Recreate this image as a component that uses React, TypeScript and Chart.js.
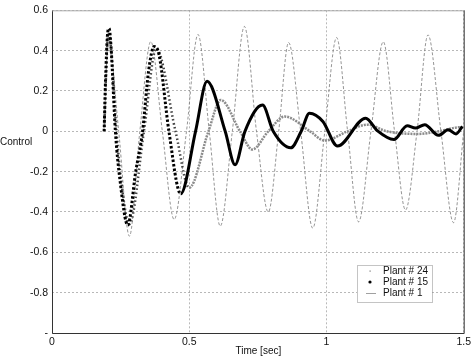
import React, { useEffect, useRef } from "react";
import { Chart, registerables } from "chart.js";

Chart.register(...registerables);

// Plant # 1 (thin line)
const T1 = [0.19, 0.205, 0.243, 0.282, 0.32, 0.36, 0.402, 0.445, 0.49, 0.532, 0.573, 0.613, 0.657, 0.701, 0.745, 0.788, 0.826, 0.862, 0.906, 0.95, 0.994, 1.037, 1.077, 1.117, 1.162, 1.207, 1.248, 1.288, 1.33, 1.37, 1.417, 1.463, 1.5];
const P1 = [0, 0.46, 0, -0.52, 0, 0.445, 0, -0.437, 0, 0.48, 0, -0.47, 0, 0.52, 0, -0.4, 0, 0.44, 0, -0.48, 0, 0.465, 0, -0.449, 0, 0.444, 0, -0.39, 0, 0.478, 0, -0.453, 0];

// Plant # 15 (bold dots)
const T15 = [0.19, 0.195, 0.203, 0.208, 0.215, 0.231, 0.248, 0.276, 0.305, 0.33, 0.352, 0.372, 0.39, 0.426, 0.469, 0.523, 0.565, 0.631, 0.667, 0.703, 0.767, 0.806, 0.87, 0.908, 0.938, 0.987, 1.04, 1.143, 1.185, 1.246, 1.294, 1.324, 1.358, 1.408, 1.444, 1.472, 1.495];
const P15 = [0, 0.25, 0.49, 0.51, 0.42, 0, -0.245, -0.465, -0.2, 0, 0.3, 0.42, 0.38, 0, -0.31, 0, 0.248, 0, -0.166, 0, 0.13, 0, -0.082, 0, 0.09, 0.049, -0.073, 0.065, 0.003, -0.041, 0.028, 0.016, 0.033, -0.02, 0.008, -0.013, 0.024];

// Plant # 24 (small markers)
const T24 = [0.19, 0.196, 0.205, 0.213, 0.235, 0.252, 0.282, 0.335, 0.38, 0.45, 0.5, 0.57, 0.615, 0.685, 0.73, 0.788, 0.848, 0.94, 0.993, 1.077, 1.149, 1.22, 1.33, 1.41, 1.486, 1.5];
const P24 = [0, 0.25, 0.48, 0.44, 0, -0.245, -0.46, 0, 0.41, 0, -0.28, 0, 0.155, 0, -0.09, 0, 0.073, 0, -0.046, 0, 0.033, 0, -0.013, 0, 0.02, 0.018];

const Y_TICKS = [0.6, 0.4, 0.2, 0, -0.2, -0.4, -0.6, -0.8, -1];
const X_TICKS = [0, 0.5, 1, 1.5];
const LEGEND = ["Plant # 24", "Plant # 15", "Plant # 1"];
const X_TITLE = "Time [sec]";
const Y_TITLE = "Control";

const FONT = '"Liberation Sans", Arial, Helvetica, sans-serif';

const pts = (t: number[], v: number[]) => t.map((x, i) => ({ x, y: v[i] }));

const decor = {
  id: "decor",
  afterDraw(chart: any) {
    const { ctx, chartArea: a } = chart;
    ctx.save();
    // frame
    ctx.strokeStyle = "#333";
    ctx.lineWidth = 1;
    ctx.setLineDash([]);
    ctx.beginPath();
    ctx.moveTo(a.left + 0.5, a.top);
    ctx.lineTo(a.left + 0.5, a.bottom + 0.5);
    ctx.lineTo(a.right + 0.5, a.bottom + 0.5);
    ctx.lineTo(a.right + 0.5, a.top);
    ctx.stroke();
    ctx.strokeStyle = "#aaa";
    ctx.beginPath();
    ctx.moveTo(a.left, a.top + 0.5);
    ctx.lineTo(a.right, a.top + 0.5);
    ctx.stroke();

    // axis titles
    ctx.fillStyle = "#111";
    ctx.font = `10px ${FONT}`;
    ctx.textBaseline = "middle";
    ctx.textAlign = "left";
    ctx.fillText(Y_TITLE, 0, 142);
    ctx.textAlign = "center";
    ctx.fillText(X_TITLE, (a.left + a.right) / 2 + 0.5, 351);

    // legend
    const lx = 357, ly = 265, lw = 75, lh = 37;
    ctx.fillStyle = "#fff";
    ctx.fillRect(lx, ly, lw, lh);
    ctx.strokeStyle = "#888";
    ctx.setLineDash([1, 1]);
    ctx.strokeRect(lx + 0.5, ly + 0.5, lw, lh);
    ctx.setLineDash([]);
    const rows = [271, 282, 293.5];
    ctx.font = `10px ${FONT}`;
    ctx.textAlign = "left";
    ctx.fillStyle = "#111";
    LEGEND.forEach((s, i) => ctx.fillText(s, 383, rows[i]));
    // markers
    ctx.fillStyle = "#777";
    ctx.fillRect(369.5, rows[0] - 0.5, 1.2, 1.2);
    ctx.fillStyle = "#000";
    ctx.beginPath();
    ctx.arc(370, rows[1], 1.6, 0, Math.PI * 2);
    ctx.fill();
    ctx.strokeStyle = "#888";
    ctx.lineWidth = 0.8;
    ctx.beginPath();
    ctx.moveTo(366, rows[2]);
    ctx.lineTo(376, rows[2]);
    ctx.stroke();
    ctx.restore();
  },
};

export default function App() {
  const ref = useRef<HTMLCanvasElement>(null);
  useEffect(() => {
    const early = (ctx: any) => ctx.p0.parsed.x < 0.46;
    const chart = new Chart(ref.current!, {
      type: "line",
      data: {
        datasets: [
          {
            label: LEGEND[1],
            data: pts(T15, P15),
            borderColor: "#000",
            borderWidth: 3,
            pointRadius: 0,
            cubicInterpolationMode: "monotone",
            segment: {
              borderDash: (c: any) => (early(c) ? [2.5, 2] : undefined),
            },
          },
          {
            label: LEGEND[0],
            data: pts(T24, P24),
            borderColor: "#8c8c8c",
            borderWidth: 2.5,
            pointRadius: 0,
            cubicInterpolationMode: "monotone",
            segment: {
              borderDash: (c: any) => (early(c) ? [1.5, 2.5] : [2, 1]),
              borderColor: (c: any) => (early(c) ? "#444" : undefined),
            },
          },
          {
            label: LEGEND[2],
            data: pts(T1, P1),
            borderColor: "#7a7a7a",
            borderWidth: 0.8,
            borderDash: [3, 2],
            pointRadius: 0,
            cubicInterpolationMode: "monotone",
          },
        ],
      },
      options: {
        animation: false,
        responsive: false,
        layout: { padding: { top: 6, right: 7, left: 0, bottom: 0 } },
        plugins: { legend: { display: false }, tooltip: { enabled: false } },
        scales: {
          x: {
            type: "linear",
            min: 0,
            max: 1.5,
            afterBuildTicks: (s: any) => {
              s.ticks = X_TICKS.map((v) => ({ value: v }));
            },
            afterFit: (s: any) => {
              s.height = 25;
            },
            ticks: {
              maxRotation: 0,
              padding: 3,
              color: "#111",
              font: { family: FONT, size: 10.5 },
              callback: (v: any) => String(v),
            },
            grid: { color: "rgba(0,0,0,0.28)", tickLength: 0, lineWidth: 1 },
            border: { display: false, dash: [2, 2] },
          },
          y: {
            min: -1,
            max: 0.6,
            afterBuildTicks: (s: any) => {
              s.ticks = Y_TICKS.slice().reverse().map((v) => ({ value: v }));
            },
            afterFit: (s: any) => {
              s.width = 52;
            },
            ticks: {
              padding: 4,
              color: "#111",
              font: { family: FONT, size: 10.5 },
              callback: (v: any) => {
                const r = Math.round(v * 10) / 10;
                return r === -1 ? "-" : String(r);
              },
            },
            grid: { color: "rgba(0,0,0,0.28)", tickLength: 0, lineWidth: 1 },
            border: { display: false, dash: [2, 2] },
          },
        },
      },
      plugins: [decor],
    } as any);
    return () => chart.destroy();
  }, []);
  return (
    <div style={{ position: "fixed", left: 0, top: 0, width: 474, height: 358, background: "#fff" }}>
      <canvas ref={ref} width={474} height={358} />
    </div>
  );
}
